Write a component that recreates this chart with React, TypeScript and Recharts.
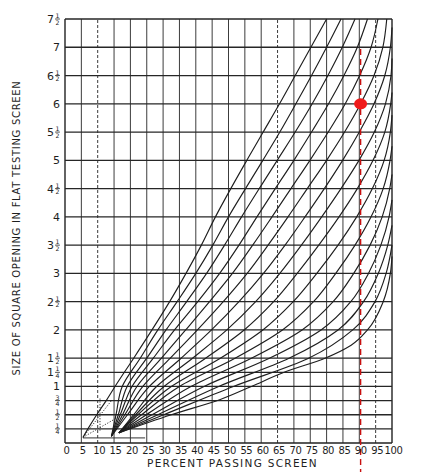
import React from 'react';
import { LineChart, Line, XAxis, YAxis, ReferenceLine, ReferenceDot, Label } from 'recharts';

type Pt = { x: number; y: number };
const toPts = (a: number[][]): Pt[] => a.map(([x, y]) => ({ x, y }));

// Each curve: [percent passing, size of opening]
const curve1 = [[5.5,0.1],[7,0.25],[9.7,0.5],[12.6,0.75],[15.3,1],[21,1.5],[26.6,2],[32,2.5],[37,3],[41.7,3.5],[46,4],[50.7,4.5],[55.6,5],[60.6,5.5],[65.6,6],[70.4,6.5],[75.2,7],[80,7.5]];
const curve2 = [[14.2,0.12],[15.6,0.5],[17.5,1],[23,1.5],[28.4,2],[34.3,2.5],[40,3],[45.2,3.5],[50,4],[55.2,4.5],[60.5,5],[65.7,5.5],[70.6,6],[75.4,6.5],[80,7],[84.4,7.5]];
const curve3 = [[14.2,0.12],[16.3,0.5],[19,1],[25,1.5],[30.9,2],[37.2,2.5],[43.3,3],[48.8,3.5],[54,4],[59.4,4.5],[64.9,5],[70.4,5.5],[75.6,6],[80.4,6.5],[84.8,7],[88.7,7.5]];
const curve4 = [[14.2,0.12],[16.9,0.5],[20.5,1],[27,1.5],[33.5,2],[40.6,2.5],[47.3,3],[53.2,3.5],[58.7,4],[64.3,4.5],[70,5],[75.4,5.5],[80.6,6],[85.3,6.5],[89.4,7],[92.5,7.5]];
const curve5 = [[14.2,0.12],[17.6,0.5],[22,1],[29.5,1.5],[36.9,2],[44.2,2.5],[51.2,3],[57.4,3.5],[63.3,4],[69.1,4.5],[74.9,5],[80.5,5.5],[85.7,6],[90.1,6.5],[93.6,7],[95.7,7.5]];
const curve6 = [[14.2,0.12],[18.3,0.5],[23.8,1],[32.2,1.5],[40.5,2],[48.4,2.5],[55.7,3],[62.1,3.5],[68.2,4],[74.1,4.5],[80,5],[85.5,5.5],[90.4,6],[94.5,6.5],[97.2,7],[98.4,7.5]];
const curve7 = [[14.2,0.12],[19.1,0.5],[25.8,1],[35.5,1.5],[44.8,2],[53.2,2.5],[60.7,3],[67.3,3.5],[73.4,4],[79.3,4.5],[84.9,5],[90,5.5],[94.5,6],[97.8,6.5],[99.5,7],[100,7.35]];
const curve8 = [[16.5,0.18],[21,0.5],[28,1],[39,1.5],[49.5,2],[58.3,2.5],[65.7,3],[72.3,3.5],[78.5,4],[84.4,4.5],[89.9,5],[94.6,5.5],[98,6],[99.7,6.5],[100,6.8]];
const curve9 = [[16.5,0.18],[21.6,0.5],[30.3,1],[43,1.5],[54.8,2],[63.8,2.5],[71,3],[77.6,3.5],[83.8,4],[89.4,4.5],[94.2,5],[97.8,5.5],[99.6,6],[100,6.2]];
const curve10 = [[16.5,0.18],[22.3,0.5],[32.5,1],[47.5,1.5],[60.5,2],[69.8,2.5],[77,3],[83.5,3.5],[89.2,4],[94,4.5],[97.6,5],[99.5,5.5],[100,5.8]];
const curve11 = [[16.5,0.18],[23.4,0.5],[35,1],[52,1.5],[66.5,2],[76,2.5],[82.8,3],[88.7,3.5],[93.6,4],[97.3,4.5],[99.4,5],[100,5.25]];
const curve12 = [[16.5,0.18],[24.9,0.5],[38.5,1],[57,1.5],[72.5,2],[82,2.5],[88.3,3],[93.3,3.5],[97,4],[99.3,4.5],[100,4.75]];
const curve13 = [[16.5,0.18],[26.6,0.5],[42.5,1],[62.5,1.5],[78.3,2],[87.4,2.5],[92.8,3],[96.6,3.5],[99.1,4],[100,4.3]];
const curve14 = [[16.5,0.18],[28.4,0.5],[47,1],[68.5,1.5],[83.5,2],[91.3,2.5],[95.8,3],[98.7,3.5],[100,3.85]];
const curve15 = [[16.5,0.18],[30.2,0.5],[51.5,1],[74.5,1.5],[88,2],[94.8,2.5],[98.2,3],[100,3.5]];
const curve16 = [[16.5,0.18],[32.5,0.5],[47.5,0.77],[57,1],[67,1.25],[79.5,1.5],[87.5,1.73],[92.5,2],[97.3,2.5],[99.5,3],[100,3.3]];
const curves = [curve1, curve2, curve3, curve4, curve5, curve6, curve7, curve8, curve9, curve10, curve11, curve12, curve13, curve14, curve15, curve16];

// construction marks near the origin
const baseStub = [[5.5,0.09],[24.5,0.09]];
const dottedMarks = [
  [[10.7,0.22],[10.7,0.8]],
  [[5.5,0.1],[14.2,0.75]],
  [[5.5,0.1],[16,0.45]],
];

const xTicks = [0,5,10,15,20,25,30,35,40,45,50,55,60,65,70,75,80,85,90,95,100];
const dashedX = [10, 65, 95];
const yTicks = [0.25,0.5,0.75,1,1.25,1.5,2,2.5,3,3.5,4,4.5,5,5.5,6,6.5,7,7.5];
const yWhole: Record<string, string> = { '0.25':'', '0.5':'', '0.75':'', '1':'1', '1.25':'1', '1.5':'1', '2':'2', '2.5':'2', '3':'3', '3.5':'3', '4':'4', '4.5':'4', '5':'5', '5.5':'5', '6':'6', '6.5':'6', '7':'7', '7.5':'7' };
const yFrac: Record<string, [string, string] | null> = { '0.25':['1','4'], '0.5':['1','2'], '0.75':['3','4'], '1':null, '1.25':['1','4'], '1.5':['1','2'], '2':null, '2.5':['1','2'], '3':null, '3.5':['1','2'], '4':null, '4.5':['1','2'], '5':null, '5.5':['1','2'], '6':null, '6.5':['1','2'], '7':null, '7.5':['1','2'] };

const markerPercent = 90.4;
const markerSize = 6;
const markerTop = 6.97;
const markerBottom = -0.52;

const FONT = '"DejaVu Sans", "Liberation Sans", sans-serif';
const INK = '#1e1e1e';

const Frac = ({ cx, y, num, den }: { cx: number; y: number; num: string; den: string }) => (
  <g>
    <text x={cx} y={y - 0.9} fontSize={6.2} textAnchor="middle" fontFamily={FONT} fill={INK}>{num}</text>
    <line x1={cx - 2.4} x2={cx + 2.4} y1={y} y2={y} stroke={INK} strokeWidth={0.8} />
    <text x={cx} y={y + 5.6} fontSize={6.2} textAnchor="middle" fontFamily={FONT} fill={INK}>{den}</text>
  </g>
);

const LeftTick = (props: any) => {
  const { x, y, payload } = props;
  const k = String(payload.value);
  const w = yWhole[k];
  const f = yFrac[k];
  return (
    <g>
      {w && <text x={f ? x - 11 : x - 5} y={y + 4} fontSize={11} textAnchor="end" fontFamily={FONT} fill={INK}>{w}</text>}
      {f && <Frac cx={x - 7.5} y={y} num={f[0]} den={f[1]} />}
    </g>
  );
};

const RightTick = (props: any) => {
  const { x, y, payload } = props;
  const k = String(payload.value);
  const w = yWhole[k];
  const f = yFrac[k];
  return (
    <g>
      {w && <text x={x + 8} y={y + 4} fontSize={11} textAnchor="start" fontFamily={FONT} fill={INK}>{w}</text>}
      {f && <Frac cx={w ? x + 19 : x + 14} y={y} num={f[0]} den={f[1]} />}
    </g>
  );
};

const BottomTick = (props: any) => {
  const { x, y, payload } = props;
  return (
    <text x={x + 1.5} y={y + 11} fontSize={10} textAnchor="middle" fontFamily={FONT} fill={INK} letterSpacing={-0.4}>
      {payload.value}
    </text>
  );
};

const YTitle = (props: any) => {
  const vb = props.viewBox || { x: 0, y: 19, width: 65, height: 424 };
  const cx = vb.x + 16;
  const cy = vb.y + vb.height / 2 - 3;
  return (
    <text x={cx} y={cy} transform={`rotate(-90 ${cx} ${cy})`} textAnchor="middle" dominantBaseline="central"
      fontSize={10} letterSpacing={0.7} fontFamily={FONT} fill={INK}>
      SIZE OF SQUARE OPENING IN FLAT TESTING SCREEN
    </text>
  );
};

const XTitle = (props: any) => {
  const vb = props.viewBox || { x: 65, y: 443, width: 327, height: 29 };
  return (
    <text x={vb.x + vb.width / 2 + 4} y={vb.y + 24} textAnchor="middle" fontSize={10.5} letterSpacing={1.3}
      fontFamily={FONT} fill={INK}>
      PERCENT PASSING SCREEN
    </text>
  );
};

export default function App() {
  return (
    <div style={{ position: 'absolute', left: 0, top: 0, width: 446, height: 472, background: '#fff' }}>
      <LineChart width={446} height={472} margin={{ top: 19, right: 0, bottom: 0, left: 0 }}>
        <XAxis dataKey="x" type="number" domain={[0, 100]} ticks={xTicks} interval={0}
          axisLine={false} tickLine={false} tickSize={0} tickMargin={0} height={29} tick={<BottomTick />}>
          <Label content={<XTitle />} />
        </XAxis>
        <YAxis yAxisId="l" type="number" domain={[0, 7.5]} ticks={yTicks} interval={0} width={65}
          axisLine={false} tickLine={false} tickSize={0} tickMargin={0} tick={<LeftTick />}>
          <Label content={<YTitle />} />
        </YAxis>
        <YAxis yAxisId="r" orientation="right" type="number" domain={[0, 7.5]} ticks={yTicks} interval={0} width={54}
          axisLine={false} tickLine={false} tickSize={0} tickMargin={0} tick={<RightTick />} />

        {xTicks.map((v) => (
          <ReferenceLine key={'vx' + v} x={v} yAxisId="l" stroke={v === 0 || v === 100 ? '#222' : '#3c3c3c'}
            strokeWidth={v === 0 || v === 100 ? 1.4 : 1}
            strokeDasharray={dashedX.includes(v) ? '3 2' : undefined} />
        ))}
        {yTicks.map((v) => (
          <ReferenceLine key={'hy' + v} y={v} yAxisId="l" stroke="#262626" strokeWidth={1.3} />
        ))}
        <ReferenceLine y={0} yAxisId="l" stroke="#222" strokeWidth={1.4} />

        {dottedMarks.map((m, i) => (
          <Line key={'dm' + i} data={toPts(m)} dataKey="y" yAxisId="l" type="linear" dot={false}
            stroke="#333" strokeWidth={1} strokeDasharray="1.2 1.6" isAnimationActive={false} />
        ))}
        <Line data={toPts(baseStub)} dataKey="y" yAxisId="l" type="linear" dot={false}
          stroke="#333" strokeWidth={1} isAnimationActive={false} />

        {curves.map((c, i) => (
          <Line key={'c' + i} data={toPts(c)} dataKey="y" yAxisId="l" type="monotoneY" dot={false}
            stroke={INK} strokeWidth={1.15} isAnimationActive={false} />
        ))}

        <ReferenceLine yAxisId="l" ifOverflow="visible"
          segment={[{ x: markerPercent, y: markerTop }, { x: markerPercent, y: markerBottom }]}
          stroke="#c81010" strokeWidth={1.4} strokeDasharray="6 4" />
        <ReferenceDot yAxisId="l" x={markerPercent} y={markerSize} ifOverflow="visible"
          shape={(p: any) => <ellipse cx={p.cx} cy={p.cy} rx={6.5} ry={5.5} fill="#f01a1a" />} />
      </LineChart>
    </div>
  );
}
